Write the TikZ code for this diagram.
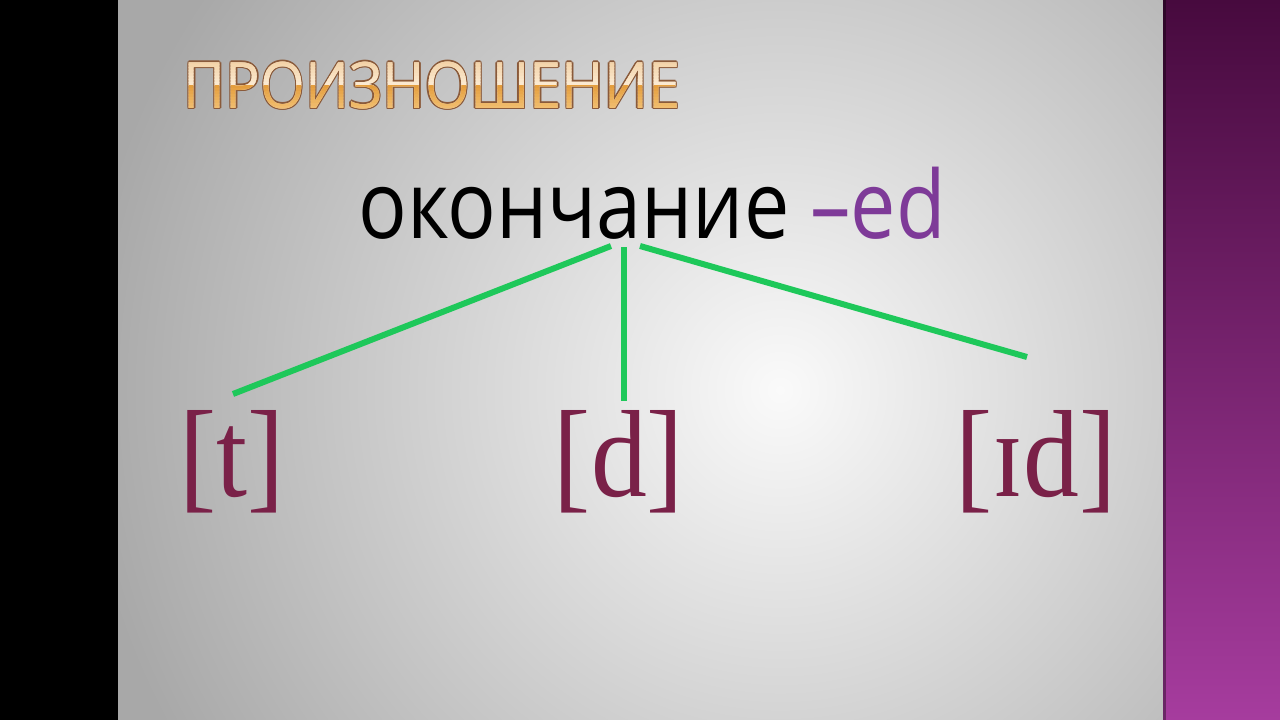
\documentclass[tikz,border=0pt]{standalone}
\usepackage{fontspec}
\setmainfont{Open Sans}
\newfontfamily\titlefont[FakeStretch=0.9]{Open Sans}
\newfontfamily\wordfont[FakeStretch=0.86]{Open Sans}
\newfontfamily\ipafont[FakeStretch=0.9]{Liberation Serif}
\usetikzlibrary{shadings}
\definecolor{bgedge}{HTML}{A8A8A8}
\definecolor{bgcenter}{HTML}{FAFAFA}
\definecolor{purpletop}{HTML}{470A3E}
\definecolor{purplebot}{HTML}{A63C9E}
\definecolor{linegreen}{HTML}{1EC85A}
\definecolor{ipared}{HTML}{7A2148}
\definecolor{edpurple}{HTML}{7E3A98}
\definecolor{titleline}{HTML}{8A5A3A}
\definecolor{titlepeach}{HTML}{F2CFA2}
\definecolor{titlecream}{HTML}{FCEDD6}
\definecolor{titleorange}{HTML}{E49E3E}
\definecolor{titlegold}{HTML}{F4C77E}
\tikzset{
  titletext/.style={font=\titlefont\fontsize{64}{64}\selectfont, inner sep=0pt, text depth=0pt},
  wordtext/.style={font=\wordfont\fontsize{94}{94}\selectfont, inner sep=0pt, anchor=base west},
  ipatext/.style={font=\ipafont\fontsize{124}{124}\selectfont, text=ipared, inner sep=0pt, anchor=base},
  branch/.style={draw=linegreen, line width=6pt},
}
\begin{document}
\begin{tikzpicture}[x=1pt,y=-1pt]
\useasboundingbox (0,0) rectangle (1280,720);
% backgrounds
\fill[black] (0,0) rectangle (118,720);
\begin{scope}
  \clip (118,0) rectangle (1163,720);
  \fill[bgedge] (118,0) rectangle (1163,720);
  \shade[inner color=bgcenter, outer color=bgedge] (780,390) circle (700);
\end{scope}
\shade[top color=purpletop, bottom color=purplebot] (1163,0) rectangle (1280,720);
\fill[black, opacity=0.35] (1163,0) rectangle (1166,720);
% title outline
\foreach \dx/\dy [count=\i] in {1.4/0, -1.4/0, 0/1.4, 0/-1.4, 1/1, -1/1, 1/-1, -1/-1}{
  \node[titletext, text=titleline] (outl\i) at (432+\dx,85+\dy) {ПРОИЗНОШЕНИЕ};
}
\node[titletext, text=titlecream] (title) at (432,85) {ПРОИЗНОШЕНИЕ};
% title gradient fill, drawn in thin horizontal strips
\foreach \y in {58,61,...,82}{
  \pgfmathtruncatemacro\p{100*(\y-58)/27}
  \colorlet{stripc}{titlecream!\p!titlepeach}
  \begin{scope}
    \clip (150,\y) rectangle (720,\y+3.3);
    \node[titletext, text=stripc] (gradtop\y) at (432,85) {ПРОИЗНОШЕНИЕ};
  \end{scope}
}
\foreach \y in {85,88,...,112}{
  \pgfmathtruncatemacro\p{100*(\y-85)/27}
  \colorlet{stripc}{titlegold!\p!titleorange}
  \begin{scope}
    \clip (150,\y) rectangle (720,\y+3.3);
    \node[titletext, text=stripc] (gradbot\y) at (432,85) {ПРОИЗНОШЕНИЕ};
  \end{scope}
}
% main word
\node[wordtext] (word) at (358,238) {окончание \textcolor{edpurple}{–ed}};
% labels
\node[ipatext] (t) at (232,496) {[t]};
\node[ipatext] (d) at (619,496) {[d]};
\node[ipatext] (id) at (1036,496) {[ɪd]};
% connectors
\coordinate (s1) at (611,246);
\coordinate (s2) at (624,247);
\coordinate (s3) at (640,246);
\coordinate (e1) at (233,394);
\coordinate (e2) at (624,401);
\coordinate (e3) at (1027,357);
\draw[branch] (s1) -- (e1);
\draw[branch] (s2) -- (e2);
\draw[branch] (s3) -- (e3);
\end{tikzpicture}
\end{document}
